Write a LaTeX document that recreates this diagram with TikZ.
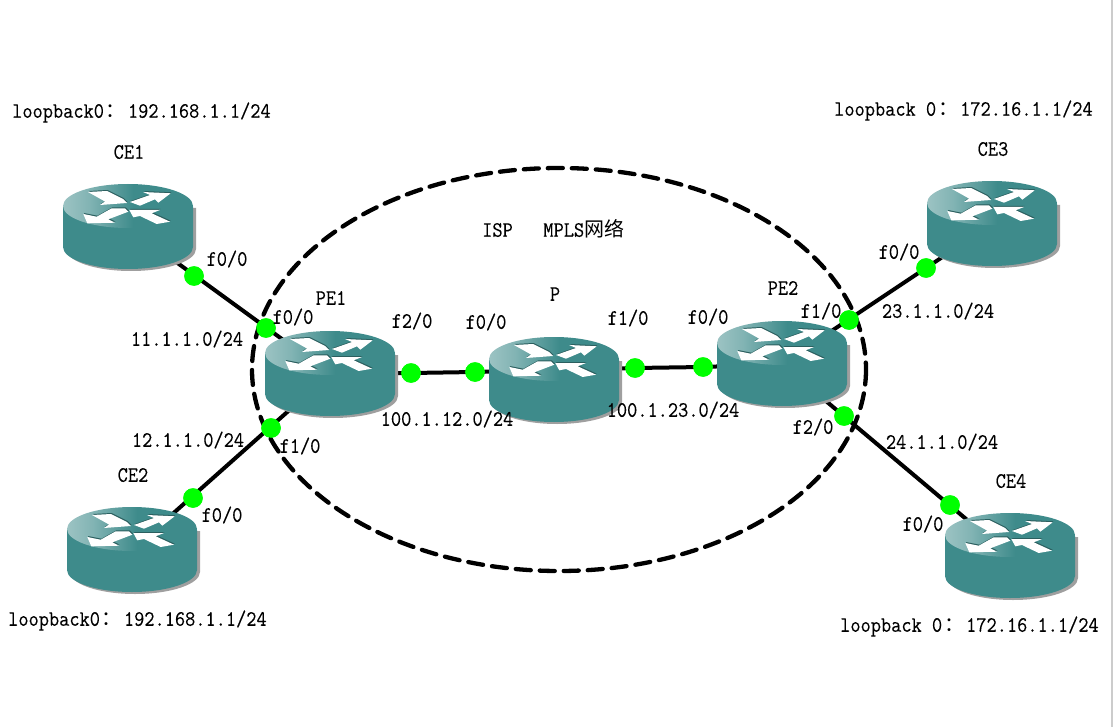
\documentclass[tikz,border=0pt]{standalone}
\usepackage{fontspec}
\newfontfamily\cjk{Noto Sans CJK SC}
\setmonofont[FakeBold=0.25,FakeStretch=0.9]{Latin Modern Mono}
\usetikzlibrary{backgrounds}
\definecolor{teal1}{HTML}{3E8B8B}
\definecolor{tealdk}{HTML}{2B5F5F}
\pgfdeclarehorizontalshading{routertop}{100bp}{color(0bp)=(teal1!30!white); color(15bp)=(teal1!38!white); color(35bp)=(teal1!65!white); color(52bp)=(teal1); color(100bp)=(teal1)}
\newcommand{\fwcolon}{\makebox[24pt][c]{\cjk\fontsize{20}{20}\selectfont ：}}
\tikzset{
  x=1pt,y=-1pt,
  lab/.style={font=\fontsize{22}{22}\selectfont\ttfamily,inner sep=0pt,text height=14.5pt,text depth=3pt},
  routerbox/.style={inner sep=0pt,minimum width=130pt,minimum height=86pt},
  port/.style={circle,fill=green,draw=none,inner sep=0pt,minimum size=19.5pt},
  link/.style={line width=4pt,draw=black},
  cloud/.style={line width=4.3pt,draw=black,line cap=round,dash pattern=on 15pt off 9pt},
  arw/.style={fill=white,draw=none},
  arwsh/.style={fill=tealdk,draw=none}
}
\newcommand{\arrowsrouter}[1]{%
  \fill[#1] (-40,-35) -- (-21,-36) -- (-5,-28) -- (-1,-24) -- (-28,-22) -- (-23,-25.5) -- cycle;
  \fill[#1] (2,-25) -- (22,-32) -- (15,-35) -- (42.7,-33.7) -- (30.3,-24.3) -- (27,-27.7) -- (12,-21.3) -- cycle;
  \fill[#1] (-16.3,-18.7) -- (-3,-18.7) -- (0.3,-15.3) -- (-19.7,-7.7) -- (-13,-4.3) -- (-40.7,-3.7) -- (-44.7,-13) -- (-31.3,-10.3) -- cycle;
  \fill[#1] (1.3,-17) -- (32,-17) -- (23.7,-13.7) -- (42,-5.3) -- (28.7,-3) -- (12,-11) -- (5.3,-9.7) -- cycle;
}
\newcommand{\routerat}[3]{%
  \begin{scope}[shift={(#2,#3)}]
    \fill[gray!75] (-62,-19) -- (68,-19) -- (68,22) arc[start angle=0,end angle=180,x radius=65,y radius=22] -- cycle;
    \fill[teal1] (-65,-20) -- (65,-20) -- (65,20) arc[start angle=0,end angle=180,x radius=65,y radius=22] -- cycle;
    \shade[shading=routertop] (0,-21) ellipse [x radius=65,y radius=22];
    \begin{scope}[shift={(0.7,-1)}]\arrowsrouter{arwsh}\end{scope}
    \arrowsrouter{arw}
  \end{scope}
  \node[routerbox] (#1) at (#2,#3) {};
}
\begin{document}
\begin{tikzpicture}
\useasboundingbox (0,0) rectangle (1113,727);
\fill[gray!40] (1111,0) rectangle (1113,727);
% routers
\routerat{CE1}{128}{227}
\routerat{CE2}{132}{550}
\routerat{CE3}{992}{224}
\routerat{CE4}{1010}{556}
\routerat{PE1}{330}{374}
\routerat{Prt}{554}{380}
\routerat{PE2}{782}{364}
% ports
\node[port] (p1) at (194,276) {};
\node[port] (p2) at (266,328) {};
\node[port] (p3) at (271,428) {};
\node[port] (p4) at (193,498) {};
\node[port] (p5) at (411,373) {};
\node[port] (p6) at (475,372) {};
\node[port] (p7) at (635,368) {};
\node[port] (p8) at (703,367) {};
\node[port] (p9) at (849,320) {};
\node[port] (p10) at (926,268) {};
\node[port] (p11) at (844,416) {};
\node[port] (p12) at (950,505) {};
% connectors and boundary
\begin{scope}[on background layer]
  \draw[link] (CE1.center) -- (PE1.center);
  \draw[link] (CE2.center) -- (PE1.center);
  \draw[link] (PE1.center) -- (p5.center) -- (p6.center) -- (p7.center) -- (p8.center) -- (PE2.center);
  \draw[link] (PE2.center) -- (CE3.center);
  \draw[link] (PE2.center) -- (CE4.center);
\end{scope}
\draw[cloud] (559,369.5) ellipse [x radius=307,y radius=201.5];
\foreach \n in {p1,p2,p3,p4,p5,p6,p7,p8,p9,p10,p11,p12}{\node[port] at (\n) {};}
% labels
\node[lab,anchor=west] (l1) at (12,112) {loopback0\fwcolon 192.168.1.1/24};
\node[lab,anchor=west] (l2) at (8,620) {loopback0\fwcolon 192.168.1.1/24};
\node[lab,anchor=west] (l3) at (834,110) {loopback 0\fwcolon 172.16.1.1/24};
\node[lab,anchor=west] (l4) at (840,626) {loopback 0\fwcolon 172.16.1.1/24};
\node[lab] (t1) at (129,153) {CE1};
\node[lab] (t2) at (133,476) {CE2};
\node[lab] (t3) at (993,150) {CE3};
\node[lab] (t4) at (1011,482) {CE4};
\node[lab] (t5) at (331,299) {PE1};
\node[lab] (t6) at (555,295) {P};
\node[lab] (t7) at (783,289) {PE2};
\node[lab,anchor=west] (t8) at (482,231) {ISP\ \ \ MPLS{\cjk\fontsize{20}{20}\selectfont 网络}};
\node[lab] (a1) at (227,260) {f0/0};
\node[lab] (a2) at (293,318) {f0/0};
\node[lab] (a3) at (412,322) {f2/0};
\node[lab] (a4) at (486,323) {f0/0};
\node[lab] (a5) at (628,319) {f1/0};
\node[lab] (a6) at (708,318) {f0/0};
\node[lab] (a7) at (821,312) {f1/0};
\node[lab] (a8) at (899,253) {f0/0};
\node[lab] (a9) at (300,447) {f1/0};
\node[lab] (a10) at (222,516) {f0/0};
\node[lab] (a11) at (813,428) {f2/0};
\node[lab] (a12) at (923,525) {f0/0};
\node[lab] (n1) at (187,340) {11.1.1.0/24};
\node[lab] (n2) at (188,441) {12.1.1.0/24};
\node[lab] (n3) at (938,312) {23.1.1.0/24};
\node[lab] (n4) at (942,443) {24.1.1.0/24};
\node[lab] (n5) at (447,420) {100.1.12.0/24};
\node[lab] (n6) at (673,411) {100.1.23.0/24};
\end{tikzpicture}
\end{document}
